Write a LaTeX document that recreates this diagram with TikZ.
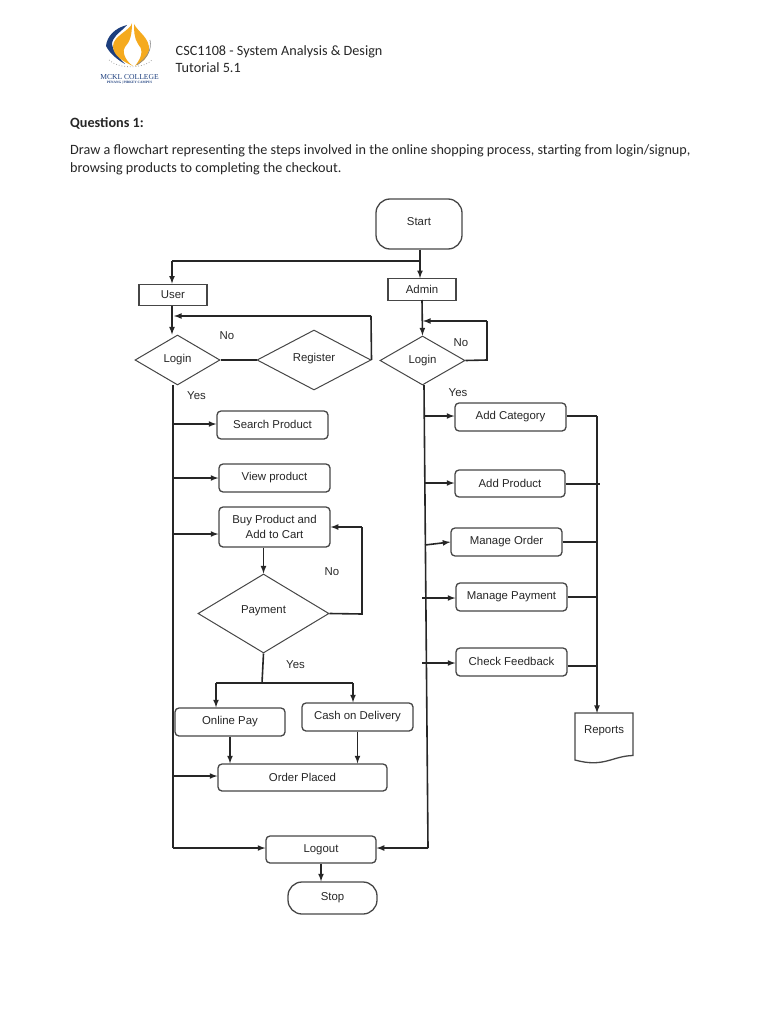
\documentclass[tikz,border=0pt]{standalone}
\usepackage{fontspec}
\setmainfont{Carlito}
\newfontfamily\flowfont{Liberation Sans}
\newfontfamily\logofont{Liberation Serif}
\usetikzlibrary{shapes.geometric}
\definecolor{logoblue}{RGB}{28,62,125}
\definecolor{logogold}{RGB}{245,170,30}
\definecolor{boxgrey}{RGB}{70,70,70}
\tikzset{
    headtext/.style={anchor=base west,inner sep=0pt,font=\fontsize{14.2}{17}\selectfont,text=black!85},
    flowtext/.style={font=\flowfont\fontsize{11.4}{14.5}\selectfont,text=black!85,align=center},
    plainbox/.style={flowtext,draw=boxgrey,line width=1.3pt,fill=white,minimum width=#1,minimum height=21.5pt,inner sep=0pt},
    procbox/.style={flowtext,draw=boxgrey,line width=1.3pt,fill=white,rounded corners=4pt,minimum width=#1,minimum height=28pt,inner sep=0pt},
    decision/.style n args={2}{flowtext,draw=boxgrey,line width=1pt,fill=white,diamond,aspect=1,minimum width=#1,minimum height=#2,inner sep=0pt},
    flowlabel/.style={flowtext,inner sep=0pt},
    link/.style={line width=1.6pt,black!85},
    flow/.style={link,-latex},
}
\begin{document}
\begin{tikzpicture}[x=1pt,y=-1pt]
    \useasboundingbox (0,0) rectangle (768,1024);

    % the logo
    \fill[logoblue] (127,25) .. controls (115,28) and (107,36) .. (106,46) .. controls (110,54) and (118,60) .. (125,64) .. controls (115,54) and (110,46) .. (113,40) .. controls (116,34) and (123,30) .. (127,25);
    \fill[logogold] (132,23) .. controls (131,30) and (113,36) .. (113,46) .. controls (113,56) and (124,62) .. (133,66) .. controls (124,60) and (122,50) .. (125,47) .. controls (130,42) and (132,35) .. (132,23);
    \fill[logogold] (134,24) .. controls (138,32) and (150,38) .. (149,50) .. controls (148,59) and (142,62) .. (135,66) .. controls (144,55) and (142,48) .. (138,44) .. controls (134,38) and (134,30) .. (134,24);
    \draw[black!45,line width=0.7pt] (150,40) .. controls (152,50) and (147,58) .. (137,65);
    \draw[black!35,line width=0.8pt,dotted] (109,60) .. controls (118,69) and (144,69) .. (152,60);
    \node[inner sep=0pt,text=logoblue,font=\logofont\fontsize{7.6}{9}\selectfont] (logoname) at (129.5,77) {MCKL COLLEGE};
    \node[inner sep=0pt,text=logoblue,font=\logofont\bfseries\fontsize{3.4}{4}\selectfont] (logosub) at (129.5,83) {PENANG | PIRKEY CAMPUS};

    % the header texts
    \node[headtext] (course) at (175.5,55.5) {CSC1108 - System Analysis \& Design};
    \node[headtext] (tutorial) at (175.5,72.5) {Tutorial 5.1};
    \node[headtext,font=\bfseries\fontsize{14.2}{17}\selectfont] (question) at (70,127.5) {Questions 1:};
    \node[headtext] (task1) at (70,155) {Draw a flowchart representing the steps involved in the online shopping process, starting from login/signup,};
    \node[headtext] (task2) at (70,172.5) {browsing products to completing the checkout.};

    % the boxes on top
    \node[flowtext,draw=boxgrey,line width=1.3pt,rounded corners=14pt,minimum width=86pt,minimum height=50pt,inner sep=0pt] (start) at (419,224) {\raisebox{5pt}{Start}};
    \node[plainbox=68pt] (user) at (173,295) {User};
    \node[plainbox=68pt] (admin) at (422,289.5) {\raisebox{-2pt}{Admin}};

    % the diamonds
    \node[decision={85pt}{50pt}] (loginu) at (177.5,360) {\raisebox{3pt}{Login}};
    \node[decision={114pt}{60pt}] (register) at (314,360) {\raisebox{5pt}{Register}};
    \node[decision={85pt}{49pt}] (logina) at (422.5,360.5) {\raisebox{2pt}{Login}};
    \node[decision={131pt}{79pt}] (payment) at (263.5,613.5) {\raisebox{8pt}{Payment}};

    % the user side
    \node[procbox=111pt] (search) at (272.5,425) {\raisebox{1pt}{Search Product}};
    \node[procbox=111pt] (view) at (274.5,478) {View product};
    \node[procbox=111pt,minimum height=40pt] (buy) at (274.5,527) {Buy Product and\\Add to Cart};
    \node[procbox=110pt] (online) at (230,722) {Online Pay};
    \node[procbox=111pt] (cash) at (357.5,717) {Cash on Delivery};
    \node[procbox=169pt,minimum height=27pt] (placed) at (302.5,777.5) {Order Placed};
    \node[procbox=110pt,minimum height=27pt] (logout) at (321,849.5) {\raisebox{2pt}{Logout}};
    \node[flowtext,draw=boxgrey,line width=1.3pt,rounded corners=14pt,minimum width=89pt,minimum height=32pt,inner sep=0pt] (stop) at (332.5,898) {\raisebox{-3pt}{Stop}};

    % the admin side
    \node[procbox=111pt] (category) at (510.5,417) {\raisebox{-2pt}{Add Category}};
    \node[procbox=110pt,minimum height=27pt] (product) at (510,483.5) {\raisebox{1pt}{Add Product}};
    \node[procbox=111pt] (order) at (506.5,542) {\raisebox{-2pt}{Manage Order}};
    \node[procbox=111pt] (managepay) at (511.5,597) {\raisebox{-4pt}{Manage Payment}};
    \node[procbox=111pt] (feedback) at (511.5,662) {\raisebox{2pt}{Check Feedback}};
    \draw[boxgrey,line width=1.3pt] (575,713) -- (633,713) -- (633,755.5) .. controls (612,756) and (604,768) .. (575,760) -- cycle;
    \node[flowlabel] (reports) at (604,731) {Reports};

    % the texts
    \node[flowlabel] (nou) at (227,336) {No};
    \node[flowlabel] (yesu) at (196.5,396) {Yes};
    \node[flowlabel] (noa) at (461,343) {No};
    \node[flowlabel] (yesa) at (458,393) {Yes};
    \node[flowlabel] (nop) at (332,572) {No};
    \node[flowlabel] (yesp) at (295.5,665) {Yes};

    % the points on the lines
    \coordinate (splitS) at (420,261);
    \coordinate (splitU) at (172,261);
    \coordinate (backU) at (174,316);
    \coordinate (cornerR) at (371,316);
    \coordinate (backA) at (423,321);
    \coordinate (cornerA1) at (487,321);
    \coordinate (cornerA2) at (487,360);
    \coordinate (cornerP1) at (362,614);
    \coordinate (cornerP2) at (362,527);
    \coordinate (splitP) at (262,683);
    \coordinate (splitP1) at (216,683);
    \coordinate (splitP2) at (353,683);
    \coordinate (trunkU) at (173,385);
    \coordinate (trunkU1) at (173,424);
    \coordinate (trunkU2) at (173,478);
    \coordinate (trunkU3) at (173,534);
    \coordinate (trunkU4) at (173,776);
    \coordinate (trunkU5) at (173,848);
    \coordinate (trunkA) at (424,385);
    \coordinate (trunkA1) at (424,416);
    \coordinate (trunkA2) at (424.5,483);
    \coordinate (trunkA3) at (425,545);
    \coordinate (trunkA4) at (422,598);
    \coordinate (trunkA5) at (422,663);
    \coordinate (trunkA6) at (428,848);
    \coordinate (busTop) at (597,416);
    \coordinate (bus2) at (600,484);
    \coordinate (bus3) at (597,542);
    \coordinate (bus4) at (597,597);
    \coordinate (bus5) at (597,666);
    \coordinate (busEnd) at (597,713);

    % draw the arrows on top
    \draw[link] (start.south -| splitS) -- (splitS) -- (splitU);
    \draw[flow] (splitU) -- (splitU |- user.north);
    \draw[flow] (splitS) -- (splitS |- admin.north);
    \draw[flow] (user.south -| splitU) -- (172,334.5);
    \draw[flow] (admin) ++(0,10.5) -- (logina.north);
    \draw[link] (loginu.east) -- (register.west);
    \draw[link] (register.east) -- (cornerR);
    \draw[flow] (cornerR) -- (backU);
    \draw[link] (logina.east) -- (cornerA2) -- (cornerA1);
    \draw[flow] (cornerA1) -- (backA);

    % draw the arrows on the user side
    \draw[link] (trunkU) -- (trunkU5);
    \draw[flow] (trunkU1) -- (trunkU1 -| search.west);
    \draw[flow] (trunkU2) -- (trunkU2 -| view.west);
    \draw[flow] (trunkU3) -- (trunkU3 -| buy.west);
    \draw[flow] (trunkU4) -- (trunkU4 -| placed.west);
    \draw[flow] (trunkU5) -- (trunkU5 -| logout.west);
    \draw[flow] (buy.south -| payment.north) -- (payment.north);
    \draw[link] (payment.east) -- (cornerP1) -- (cornerP2);
    \draw[flow] (cornerP2) -- (buy.east |- cornerP2);
    \draw[link] (payment.south) -- (splitP);
    \draw[link] (splitP2) -- (splitP1);
    \draw[flow] (splitP1) -- (splitP1 |- online.north);
    \draw[flow] (splitP2) -- (splitP2 |- cash.north);
    \draw[flow] (online.south) -- (online.south |- placed.north);
    \draw[flow] (cash.south) -- (cash.south |- placed.north);
    \draw[flow] (logout.south) -- (logout.south |- stop.north);

    % draw the arrows on the admin side
    \draw[link] (trunkA) -- (trunkA6);
    \draw[flow] (trunkA6) -- (trunkA6 -| logout.east);
    \draw[flow] (trunkA1) -- (trunkA1 -| category.west);
    \draw[flow] (trunkA2) -- (trunkA2 -| product.west);
    \draw[flow] (trunkA3) -- (order.west);
    \draw[flow] (trunkA4) -- (trunkA4 -| managepay.west);
    \draw[flow] (trunkA5) -- (trunkA5 -| feedback.west);
    \draw[link] (busTop -| category.east) -- (busTop);
    \draw[link] (bus2 -| product.east) -- (bus2);
    \draw[link] (bus3 -| order.east) -- (bus3);
    \draw[link] (bus4 -| managepay.east) -- (bus4);
    \draw[link] (bus5 -| feedback.east) -- (bus5);
    \draw[flow] (busTop) -- (busEnd);
\end{tikzpicture}
\end{document}
